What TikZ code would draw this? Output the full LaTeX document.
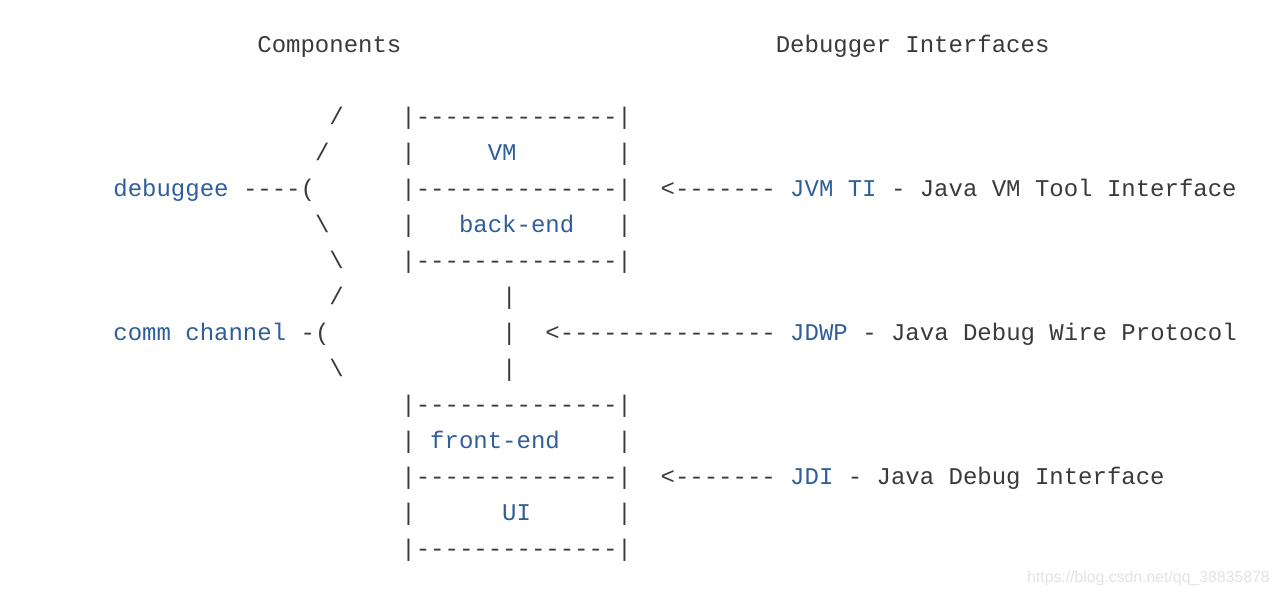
\documentclass[tikz,border=0pt]{standalone}
\usepackage{fontspec}
\newfontfamily\asciifont{Liberation Mono}
\newfontfamily\markfont{Liberation Sans}
\definecolor{plaingray}{HTML}{3A3A3A}
\definecolor{keyblue}{HTML}{2F5E9B}
\definecolor{markgray}{HTML}{E2E2E2}
\newcommand{\kw}[1]{\textcolor{keyblue}{#1}}
\newcommand{\boxedge}{|--------------|}
\tikzset{
  ascii/.style={anchor=base west, inner sep=0pt, text=plaingray,
    font=\asciifont\fontsize{12pt}{14pt}\selectfont},
}
\begin{document}
\begin{tikzpicture}[x=7.2pt, y=-18pt]
\useasboundingbox (-7.847,-3.25) rectangle (80.903,13.306);
% headings
\node[ascii] (hdrcomp) at (10,-1.8) {Components};
\node[ascii] (hdriface) at (46,-1.8) {Debugger Interfaces};
% left side
\node[ascii] (sl1) at (15,0.2) {/};
\node[ascii] (sl2) at (14,1.2) {/};
\node[ascii] (debuggee) at (0,2.2) {\kw{debuggee} ----(};
\node[ascii] (sl3) at (14,3.2) {\textbackslash};
\node[ascii] (sl4) at (15,4.2) {\textbackslash};
\node[ascii] (sl5) at (15,5.2) {/};
\node[ascii] (comm) at (0,6.2) {\kw{comm channel} -(};
\node[ascii] (sl6) at (15,7.2) {\textbackslash};
% stack
\node[ascii] (vmtop) at (20,0.2) {\boxedge};
\node[ascii] (vmrow) at (20,1.2) {|~~~~~\kw{VM}~~~~~~~|};
\node[ascii] (vmmid) at (20,2.2) {\boxedge};
\node[ascii] (berow) at (20,3.2) {|~~~\kw{back-end}~~~|};
\node[ascii] (bebot) at (20,4.2) {\boxedge};
\node[ascii] (pipe1) at (27,5.2) {|};
\node[ascii] (pipe2) at (27,6.2) {|};
\node[ascii] (pipe3) at (27,7.2) {|};
\node[ascii] (fetop) at (20,8.2) {\boxedge};
\node[ascii] (ferow) at (20,9.2) {|~\kw{front-end}~~~~|};
\node[ascii] (femid) at (20,10.2) {\boxedge};
\node[ascii] (uirow) at (20,11.2) {|~~~~~~\kw{UI}~~~~~~|};
\node[ascii] (uibot) at (20,12.2) {\boxedge};
% interfaces
\node[ascii] (jvmti) at (38,2.2) {<------- \kw{JVM TI} - Java VM Tool Interface};
\node[ascii] (jdwp) at (30,6.2) {<--------------- \kw{JDWP} - Java Debug Wire Protocol};
\node[ascii] (jdi) at (38,10.2) {<------- \kw{JDI} - Java Debug Interface};
\node[anchor=base east, inner sep=0pt, text=markgray,
  font=\markfont\fontsize{7.9pt}{9pt}\selectfont] (mark) at (80.35,12.94)
  {https://blog.csdn.net/qq\_38835878};
\end{tikzpicture}
\end{document}
